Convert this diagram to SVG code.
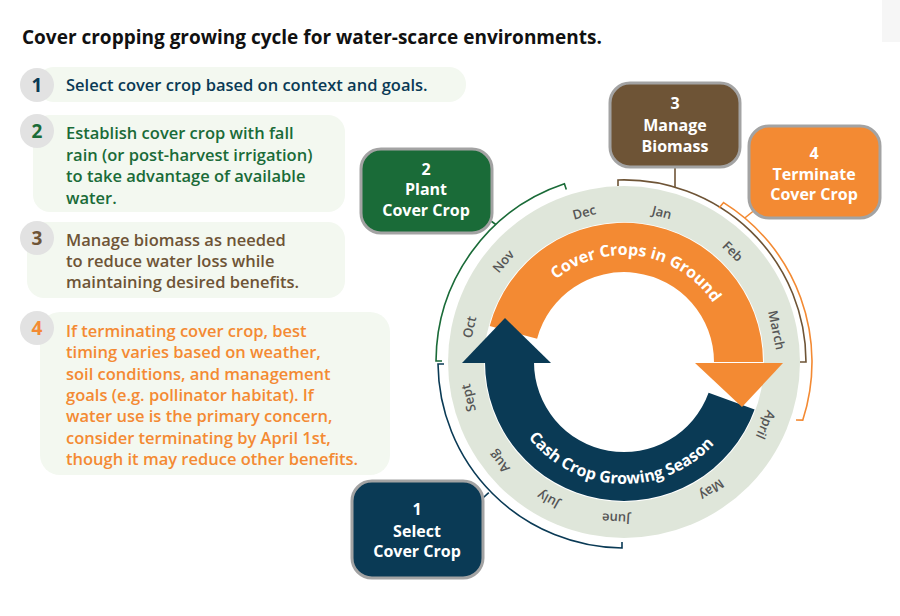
<svg xmlns="http://www.w3.org/2000/svg" width="900" height="616" viewBox="0 0 900 616">
<style>
.t{font-family:"Open Sans","Liberation Sans",sans-serif;font-weight:600;font-size:16.5px}
.bx{stroke:#a3a3a3;stroke-width:3}
.bt{font-family:"Open Sans","Liberation Sans",sans-serif;font-weight:700;fill:#fff;text-anchor:middle;font-size:16px}
.num{font-family:"Open Sans","Liberation Sans",sans-serif;font-weight:700;font-size:19px;text-anchor:middle}
.m{font-family:"Open Sans","Liberation Sans",sans-serif;font-weight:600;font-size:13px;fill:#555;text-anchor:middle;dominant-baseline:central}
.br{fill:none;stroke-width:1.6}
.arc{font-family:"Open Sans","Liberation Sans",sans-serif;font-weight:700;font-size:16px;fill:#fff}
.pan{fill:#f3f8f0}
.cir{fill:#e2e2e2}
</style>
<defs>
<path id="tp1" d="M531.3 308.5 A107 107 0 0 1 728.2 337.9"/>
<path id="tp2" d="M503.9 383.2 A122 122 0 0 0 742.4 391.5"/>
</defs>
<rect x="882" y="0" width="18" height="42" fill="#f6f6f6"/>
<text x="22" y="44" font-family="'Open Sans','Liberation Sans',sans-serif" font-weight="700" font-size="19" fill="#111">Cover cropping growing cycle for water-scarce environments.</text>
<g id="item1">
<rect class="pan" x="37" y="67" width="429" height="35" rx="17"/>
<circle class="cir" cx="37" cy="85" r="17"/>
<text class="num" x="37" y="92" fill="#0a3a55">1</text>
<text class="t" x="66" y="91" fill="#0a3a55">Select cover crop based on context and goals.</text>
</g>
<g id="item2">
<rect class="pan" x="33" y="115" width="312" height="97" rx="17"/>
<circle class="cir" cx="37" cy="131" r="17"/>
<text class="num" x="37" y="138" fill="#1a6b38">2</text>
<text class="t" fill="#1a6b38"><tspan x="66" y="139">Establish cover crop with fall</tspan><tspan x="66" y="160.5">rain (or post-harvest irrigation)</tspan><tspan x="66" y="182">to take advantage of available</tspan><tspan x="66" y="203.5">water.</tspan></text>
</g>
<g id="item3">
<rect class="pan" x="27" y="222" width="318" height="76" rx="17"/>
<circle class="cir" cx="37" cy="238" r="17"/>
<text class="num" x="37" y="245" fill="#6e5436">3</text>
<text class="t" fill="#6e5436"><tspan x="66" y="246">Manage biomass as needed</tspan><tspan x="66" y="267">to reduce water loss while</tspan><tspan x="66" y="288">maintaining desired benefits.</tspan></text>
</g>
<g id="item4">
<rect class="pan" x="40" y="312" width="350" height="163" rx="20"/>
<circle class="cir" cx="37" cy="328" r="17"/>
<text class="num" x="37" y="335" fill="#f38a33">4</text>
<text class="t" fill="#f38a33"><tspan x="66" y="337">If terminating cover crop, best</tspan><tspan x="66" y="358.3">timing varies based on weather,</tspan><tspan x="66" y="379.6">soil conditions, and management</tspan><tspan x="66" y="400.9">goals (e.g. pollinator habitat). If</tspan><tspan x="66" y="422.2">water use is the primary concern,</tspan><tspan x="66" y="443.5">consider terminating by April 1st,</tspan><tspan x="66" y="464.8">though it may reduce other benefits.</tspan></text>
</g>
<g id="cycle">
<circle cx="624" cy="362" r="176" fill="#dfe6da"/>
<circle cx="624" cy="362" r="140" fill="#fff"/>
<path d="M485 362 A139 139 0 0 0 754.6 409.5 L708.6 392.8 A90 90 0 0 1 534 362 Z" fill="#0a3a55"/>
<path d="M489.7 326 A139 139 0 0 1 763 362 L714 362 A90 90 0 0 0 537.1 338.7 Z" fill="#f38a33"/>
<polygon points="695,363 783,363 742,407" fill="#f38a33"/>
<polygon points="462,363 551,363 505,318" fill="#0a3a55"/>
<text class="arc"><textPath href="#tp1" startOffset="50%" text-anchor="middle">Cover Crops in Ground</textPath></text>
<text class="arc"><textPath href="#tp2" startOffset="50%" text-anchor="middle">Cash Crop Growing Season</textPath></text>
<text class="m" transform="translate(584,212) rotate(-15)">Dec</text>
<text class="m" transform="translate(662,212) rotate(14)">Jan</text>
<text class="m" transform="translate(733,251) rotate(44.5)">Feb</text>
<text class="m" transform="translate(777,330) rotate(78)">March</text>
<text class="m" transform="translate(766,425) rotate(114)">April</text>
<text class="m" transform="translate(712,490) rotate(145.5)">May</text>
<text class="m" transform="translate(616,519) rotate(183)">June</text>
<text class="m" transform="translate(548,500) rotate(209)">July</text>
<text class="m" transform="translate(499,462) rotate(231)">Aug</text>
<text class="m" transform="translate(468,398) rotate(257)">Sept</text>
<text class="m" transform="translate(469,327) rotate(-77)">Oct</text>
<text class="m" transform="translate(503,261) rotate(-50)">Nov</text>
</g>
<g id="connectors">
<path class="br" stroke="#1a6b38" d="M442 361 L436 361 A188 188 0 0 1 564.4 183.7 L566.3 189.4"/>
<path class="br" stroke="#1a6b38" d="M495.8 224.5 L480 213"/>
<path class="br" stroke="#0a3a55" d="M444 364 L438 364 A186 186 0 0 0 622 548 L622 542"/>
<path class="br" stroke="#0a3a55" d="M488.8 492.6 L474 506"/>
<path class="br" stroke="#6e5436" d="M618 186 L618 180 A182 182 0 0 1 806 362 L800 362"/>
<path class="br" stroke="#6e5436" d="M675 167 L675 187"/>
<path class="br" stroke="#f38a33" d="M719 208 L723.6 202.6 A188 188 0 0 1 802.8 420.1 L796 420"/>
<path class="br" stroke="#f38a33" d="M744.8 218 L762 204"/>
</g>
<g id="plant">
<rect class="bx" x="361" y="149" width="131" height="84" rx="20" fill="#1a6b38"/>
<text class="bt" x="426" y="175" font-size="20">2</text>
<text class="bt" x="426" y="195">Plant</text>
<text class="bt" x="426" y="216">Cover Crop</text>
</g>
<g id="manage">
<rect class="bx" x="610" y="83" width="130" height="84" rx="20" fill="#6e5436"/>
<text class="bt" x="675" y="109" font-size="20">3</text>
<text class="bt" x="675" y="131">Manage</text>
<text class="bt" x="675" y="152">Biomass</text>
</g>
<g id="terminate">
<rect class="bx" x="749" y="126" width="131" height="92" rx="20" fill="#f38a33"/>
<text class="bt" x="814" y="159" font-size="20">4</text>
<text class="bt" x="814" y="180">Terminate</text>
<text class="bt" x="814" y="200">Cover Crop</text>
</g>
<g id="select">
<rect class="bx" x="352" y="481" width="131" height="97" rx="20" fill="#0a3a55"/>
<text class="bt" x="417" y="515" font-size="20">1</text>
<text class="bt" x="417" y="537">Select</text>
<text class="bt" x="417" y="557">Cover Crop</text>
</g>
</svg>
